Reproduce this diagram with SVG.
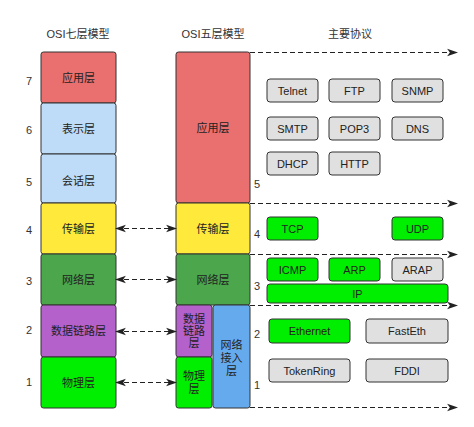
<svg xmlns="http://www.w3.org/2000/svg" width="474" height="427" viewBox="0 0 474 427">
<defs>
<style>
text{font-family:"Liberation Sans","Noto Sans CJK SC",sans-serif;font-size:11px;fill:#222;text-anchor:middle;dominant-baseline:central}
.t{font-size:11px;fill:#333}
.n{font-size:11px;fill:#333}
.b{stroke:#333;stroke-width:1;rx:2.5}
.p{fill:#e0e0e0;stroke:#333;stroke-width:1;rx:3}
.g{fill:#00ee00;stroke:#333;stroke-width:1;rx:3}
.d{stroke:#222;stroke-width:1;stroke-dasharray:5 3;fill:none}
</style>
<marker id="ah" viewBox="0 0 10 10" refX="9" refY="5" markerWidth="11" markerHeight="11" orient="auto-start-reverse" markerUnits="userSpaceOnUse">
<path d="M0,1.5 L10,5 L0,8.5 L2.5,5 Z" fill="#222"/>
</marker>
</defs>
<text class="t" x="78" y="34">OSI七层模型</text>
<text class="t" x="213" y="34">OSI五层模型</text>
<text class="t" x="350" y="34">主要协议</text>

<g id="osi7">
<g id="l7"><rect class="b" x="41" y="52" width="75" height="51" fill="#ea6f6f"/><text x="78.5" y="78">应用层</text><text class="n" x="29" y="81">7</text></g>
<g id="l6"><rect class="b" x="41" y="103" width="75" height="51" fill="#bedcf7"/><text x="78.5" y="129">表示层</text><text class="n" x="29" y="130">6</text></g>
<g id="l5"><rect class="b" x="41" y="154" width="75" height="49" fill="#bedcf7"/><text x="78.5" y="181">会话层</text><text class="n" x="29" y="182">5</text></g>
<g id="l4"><rect class="b" x="41" y="203" width="75" height="51" fill="#ffe93b"/><text x="78.5" y="229">传输层</text><text class="n" x="29" y="230">4</text></g>
<g id="l3"><rect class="b" x="41" y="254" width="75" height="51" fill="#4ca64c"/><text x="78.5" y="280">网络层</text><text class="n" x="29" y="281">3</text></g>
<g id="l2"><rect class="b" x="41" y="305" width="75" height="52" fill="#b561cc"/><text x="78.5" y="331">数据链路层</text><text class="n" x="29" y="330">2</text></g>
<g id="l1"><rect class="b" x="41" y="357" width="75" height="51" fill="#00ee00"/><text x="78.5" y="383">物理层</text><text class="n" x="29" y="382">1</text></g>
</g>

<g id="osi5">
<g id="m5"><rect class="b" x="176" y="52" width="74" height="151" fill="#ea6f6f"/><text x="213" y="128">应用层</text><text class="n" x="257" y="184">5</text></g>
<g id="m4"><rect class="b" x="176" y="203" width="74" height="51" fill="#ffe93b"/><text x="213" y="229">传输层</text><text class="n" x="257" y="234">4</text></g>
<g id="m3"><rect class="b" x="176" y="254" width="74" height="51" fill="#4ca64c"/><text x="213" y="280">网络层</text><text class="n" x="257" y="286">3</text></g>
<g id="m2"><rect class="b" x="176" y="305" width="36" height="52" fill="#b561cc"/><text x="194" y="319">数据</text><text x="194" y="331">链路</text><text x="194" y="343">层</text></g>
<g id="m1"><rect class="b" x="176" y="357" width="36" height="51" fill="#00ee00"/><text x="194" y="376">物理</text><text x="194" y="389">层</text></g>
<g id="mna"><rect class="b" x="213" y="305" width="37" height="103" fill="#66aaee"/><text x="231.5" y="345">网络</text><text x="231.5" y="358">接入</text><text x="231.5" y="371">层</text><text class="n" x="257" y="334">2</text><text class="n" x="257" y="385">1</text></g>
</g>

<g id="protocols">
<g id="telnet"><rect class="p" x="267" y="79" width="51" height="23"/><text x="292.5" y="90.5">Telnet</text></g>
<g id="ftp"><rect class="p" x="329" y="79" width="51" height="23"/><text x="354.5" y="90.5">FTP</text></g>
<g id="snmp"><rect class="p" x="392" y="79" width="51" height="23"/><text x="417.5" y="90.5">SNMP</text></g>
<g id="smtp"><rect class="p" x="267" y="117" width="51" height="23"/><text x="292.5" y="128.5">SMTP</text></g>
<g id="pop3"><rect class="p" x="329" y="117" width="51" height="23"/><text x="354.5" y="128.5">POP3</text></g>
<g id="dns"><rect class="p" x="392" y="117" width="51" height="23"/><text x="417.5" y="128.5">DNS</text></g>
<g id="dhcp"><rect class="p" x="267" y="152" width="51" height="23"/><text x="292.5" y="163.5">DHCP</text></g>
<g id="http"><rect class="p" x="329" y="152" width="51" height="23"/><text x="354.5" y="163.5">HTTP</text></g>
<g id="tcp"><rect class="g" x="267" y="217" width="51" height="23"/><text x="292.5" y="228.5">TCP</text></g>
<g id="udp"><rect class="g" x="392" y="217" width="51" height="23"/><text x="417.5" y="228.5">UDP</text></g>
<g id="icmp"><rect class="g" x="267" y="258" width="51" height="23"/><text x="292.5" y="269.5">ICMP</text></g>
<g id="arp"><rect class="g" x="329" y="258" width="51" height="23"/><text x="354.5" y="269.5">ARP</text></g>
<g id="arap"><rect class="p" x="392" y="258" width="51" height="23"/><text x="417.5" y="269.5">ARAP</text></g>
<g id="ip"><rect class="g" x="267" y="284" width="181" height="19"/><text x="357.5" y="293.5">IP</text></g>
<g id="ethernet"><rect class="g" x="269" y="319" width="81" height="24"/><text x="309.5" y="331">Ethernet</text></g>
<g id="fasteth"><rect class="p" x="366" y="319" width="82" height="24"/><text x="407" y="331">FastEth</text></g>
<g id="tokenring"><rect class="p" x="269" y="359" width="81" height="23"/><text x="309.5" y="370.5">TokenRing</text></g>
<g id="fddi"><rect class="p" x="366" y="359" width="82" height="23"/><text x="407" y="370.5">FDDI</text></g>
</g>

<g id="connectors">
<path class="d" d="M250,52.5 H457" marker-end="url(#ah)"/>
<path class="d" d="M250,203.5 H457" marker-end="url(#ah)"/>
<path class="d" d="M250,254.5 H457" marker-end="url(#ah)"/>
<path class="d" d="M250,305.5 H457" marker-end="url(#ah)"/>
<path class="d" d="M250,407.5 H457" marker-end="url(#ah)"/>
<path class="d" d="M116,228.5 H176" marker-start="url(#ah)" marker-end="url(#ah)"/>
<path class="d" d="M116,279.5 H176" marker-start="url(#ah)" marker-end="url(#ah)"/>
<path class="d" d="M116,331.5 H176" marker-start="url(#ah)" marker-end="url(#ah)"/>
<path class="d" d="M116,382.5 H176" marker-start="url(#ah)" marker-end="url(#ah)"/>
</g>
</svg>
